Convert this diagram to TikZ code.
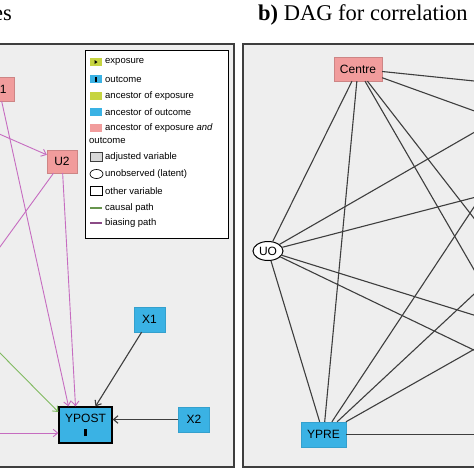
\documentclass[tikz,border=0pt]{standalone}
\usepackage{fontspec}
\setmainfont{Liberation Serif}
\setsansfont{Liberation Sans}
\usetikzlibrary{arrows.meta,positioning,shapes.geometric}

\definecolor{panelgray}{RGB}{238,238,238}
\definecolor{ancpink}{RGB}{241,156,156}
\definecolor{outblue}{RGB}{58,178,228}
\definecolor{expgreen}{RGB}{198,212,64}
\definecolor{causegreen}{RGB}{128,186,96}
\definecolor{biasmag}{RGB}{198,108,192}
\definecolor{edgegray}{RGB}{62,62,62}

\begin{document}
\begin{tikzpicture}[
		x=1pt,y=-1pt,
		>={Straight Barb[length=4.5pt,width=7.5pt]},
		every node/.style={
			inner sep=0pt,
			font=\sffamily\fontsize{12}{13}\selectfont
		},
		pinkvar/.style={draw=ancpink!85!black, fill=ancpink, minimum width=30pt, minimum height=24pt},
		bluevar/.style={draw=outblue!90!black, fill=outblue, minimum width=31pt, minimum height=25pt},
		latentvar/.style={ellipse, draw=black, fill=white, line width=1pt, minimum width=30pt, minimum height=19pt},
		legtext/.style={anchor=west, font=\sffamily\fontsize{9.5}{11}\selectfont},
		causalpath/.style={->, causegreen, line width=0.9pt},
		biaspath/.style={biasmag, line width=0.9pt},
		undirpath/.style={edgegray, line width=1.1pt},
		panel/.style={fill=panelgray, draw=edgegray, line width=1.4pt}
		]
		
		\useasboundingbox (0,0) rectangle (474,474);
		\clip (0,0) rectangle (474,474);
		
		% headings
		\node[anchor=base east, font=\rmfamily\fontsize{22.5}{24}\selectfont] (heada) at (12,20) {es};
		\node[anchor=base west, font=\rmfamily\fontsize{22.5}{24}\selectfont] (headb) at (258,20) {\textbf{b)} DAG for correlation};
		
		% panels
		\draw[panel] (-10,44) rectangle (234,467);
		\draw[panel] (243,44) rectangle (490,467);
		
		% legend
		\draw[fill=white, line width=1pt] (85,50) rectangle (228,238);
		\fill[expgreen] (90,58) rectangle (102,66);
		\fill[black] (94.5,60) -- (97.5,62) -- (94.5,64) -- cycle;
		\fill[outblue] (90,75) rectangle (102,83);
		\fill[black] (95.2,76.5) rectangle (96.8,81.5);
		\fill[expgreen] (90,92) rectangle (102,100);
		\fill[outblue] (90,108) rectangle (102,116);
		\fill[ancpink] (90,124) rectangle (102,132);
		\draw[fill=gray!30, draw=edgegray, line width=0.7pt] (90,152) rectangle (102,161);
		\draw[line width=0.7pt] (96.5,174) ellipse [x radius=6.5, y radius=4.5];
		\draw[fill=white, line width=0.7pt] (90,186) rectangle (102,195);
		\draw[causegreen!80!black, line width=2.2pt] (90,208) -- (102,208);
		\draw[biasmag!70!black, line width=2.2pt] (90,223) -- (102,223);
		
		\node[legtext] (lexp) at (105,62) {exposure};
		\node[legtext] (lout) at (105,79) {outcome};
		\node[legtext] (lancexp) at (105,96) {ancestor of exposure};
		\node[legtext] (lancout) at (105,112) {ancestor of outcome};
		\node[legtext] (lancboth) at (105,128) {ancestor of exposure \textit{and}};
		\node[legtext] (lancboth2) at (89,140) {outcome};
		\node[legtext] (ladj) at (105,157) {adjusted variable};
		\node[legtext] (llat) at (105,174) {unobserved (latent)};
		\node[legtext] (lother) at (105,191) {other variable};
		\node[legtext] (lcausal) at (105,208) {causal path};
		\node[legtext] (lbias) at (105,223) {biasing path};
		
		% left panel
		\node[pinkvar] (U1) at (-1,89) {U1};
		\node[pinkvar, minimum height=23pt] (U2) at (62,161.5) {U2};
		\node[bluevar] (X1) at (149.5,319.5) {X1};
		\node[bluevar] (X2) at (194,419.5) {X2};
		\node[draw=black, fill=outblue, line width=1.3pt, minimum width=53pt, minimum height=36pt, align=center] (YPOST) at (85.5,425) {YPOST\\[1pt]\rule{3pt}{7pt}};
		
		\coordinate (inU2) at (-3,133);
		\coordinate (outU2) at (-3,251);
		\coordinate (inGreen) at (-3,350);
		\coordinate (inBias) at (-3,433);
		
		\draw[biaspath,->] (inU2) -- (U2);
		\draw[biaspath] (U2) -- (outU2);
		\draw[biaspath,->] (U1) -- ([xshift=-17pt]YPOST.north);
		\draw[biaspath,->] (U2) -- ([xshift=-10pt]YPOST.north);
		\draw[causalpath] (inGreen) -- ([yshift=13pt]YPOST.west);
		\draw[biaspath,->] (inBias) -- ([yshift=-8pt]YPOST.west);
		\draw[undirpath,->] (X1) -- ([xshift=10pt]YPOST.north);
		\draw[undirpath,->] (X2.west) -- (X2.west -| YPOST.east);
		
		% right panel
		\node[pinkvar, minimum width=48pt] (Centre) at (358,69) {Centre};
		\node[latentvar] (UO) at (268,251) {UO};
		\node[bluevar, minimum width=45pt] (YPRE) at (323.5,434.5) {YPRE};
		
		\coordinate (ra) at (480,81.6);
		\coordinate (rb) at (480,113);
		\coordinate (rc) at (480,226);
		\coordinate (rd) at (480,280);
		\coordinate (re) at (480,129);
		\coordinate (rf) at (480,196);
		\coordinate (rg) at (480,317);
		\coordinate (rh) at (480,353);
		\coordinate (ri) at (480,198);
		\coordinate (rj) at (480,288.5);
		\coordinate (rk) at (480,346);
		\coordinate (rl) at (480,434.5);
		
		\draw[undirpath] (Centre) -- (ra);
		\draw[undirpath] (Centre) -- (rb);
		\draw[undirpath] (Centre) -- (rc);
		\draw[undirpath] (Centre) -- (rd);
		\draw[undirpath] (Centre) -- (UO);
		\draw[undirpath] (Centre) -- (YPRE);
		\draw[undirpath] (UO) -- (re);
		\draw[undirpath] (UO) -- (rf);
		\draw[undirpath] (UO) -- (rg);
		\draw[undirpath] (UO) -- (rh);
		\draw[undirpath] (UO) -- (YPRE);
		\draw[undirpath] (YPRE) -- (ri);
		\draw[undirpath] (YPRE) -- (rj);
		\draw[undirpath] (YPRE) -- (rk);
		\draw[undirpath] (YPRE) -- (rl);
		
	\end{tikzpicture}
\end{document}
